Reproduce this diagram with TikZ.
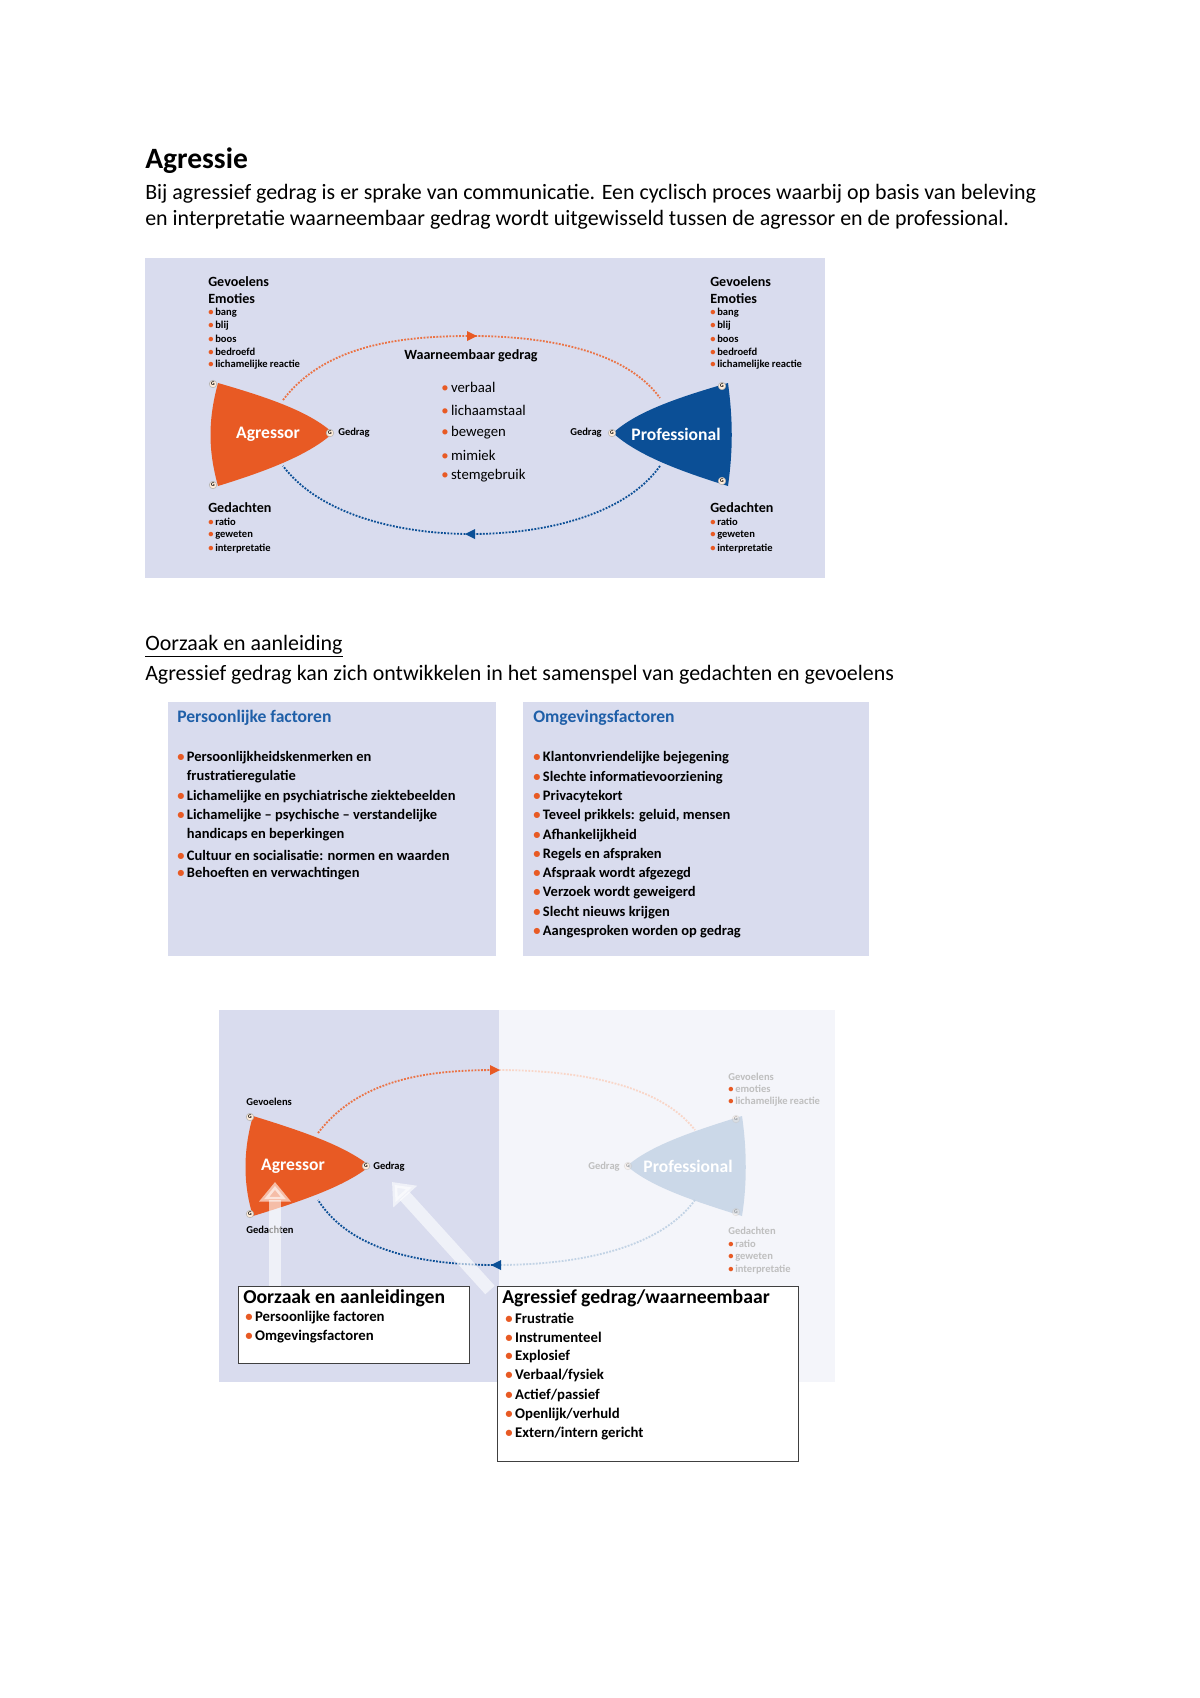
\documentclass[tikz,border=0pt]{standalone}
\usepackage{fontspec}
\setmainfont{Carlito}
\usetikzlibrary{arrows.meta}
\definecolor{og}{HTML}{E85A24}
\definecolor{bl}{HTML}{0B4F96}
\definecolor{tb}{HTML}{1F5FA8}
\definecolor{bg}{HTML}{D9DCEE}
\definecolor{bgl}{HTML}{F4F5FA}
\definecolor{fp}{HTML}{CBD8E8}
\newcommand{\fs}[1]{\fontsize{#1}{#1}\selectfont}
\newcommand{\bu}{{\color{og}\textbullet}\,}
\begin{document}
\begin{tikzpicture}[x=0.025cm,y=-0.025cm,
 t/.style={anchor=west,inner sep=0pt},
 body/.style={t,font=\fs{15.6}},
 sm/.style={t,font=\fs{7.5}\bfseries},
 smh/.style={t,font=\fs{10}\bfseries},
 g/.style={circle,fill=orange!15,draw=gray!60,inner sep=0.6pt,font=\fs{4}\bfseries,text=black},
 cyc/.style={densely dotted,line width=1.3pt},
 box/.style={draw=black!75,line width=1pt,fill=white}]
\useasboundingbox (0,0) rectangle (1200,1698);
% ---- text
\node[t,font=\fs{21}\bfseries] (title) at (145,161) {Agressie};
\node[body] (l1) at (145,194) {Bij agressief gedrag is er sprake van communicatie. Een cyclisch proces waarbij op basis van beleving};
\node[body] (l2) at (145,220) {en interpretatie waarneembaar gedrag wordt uitgewisseld tussen de agressor en de professional.};
% ---- diagram 1
\fill[bg] (145,258) rectangle (825,578);
\fill[og] (218,383) .. controls (270,398) and (310,412) .. (333,433) .. controls (310,454) and (270,470) .. (218,486) .. controls (208,450) and (208,420) .. (218,383);
\fill[bl] (728,383) .. controls (676,398) and (636,412) .. (613,433) .. controls (636,454) and (676,470) .. (728,486) .. controls (733,450) and (733,420) .. (728,383);
\draw[cyc,og!85] (283,400) .. controls (325,345) and (400,336) .. (471,336) .. controls (545,336) and (625,350) .. (660,398);
\draw[cyc,bl] (660,466) .. controls (625,515) and (545,534) .. (471,534) .. controls (400,534) and (320,515) .. (283,466);
\fill[og] (477,336) -- (467,331) -- (467,341) -- cycle;
\fill[bl] (465,534) -- (475,529) -- (475,539) -- cycle;
\node[g] (g1) at (213,384) {G}; \node[g] (g2) at (213,485) {G}; \node[g] (g3) at (330,433) {G};
\node[g] (g4) at (722,386) {G}; \node[g] (g5) at (722,481) {G}; \node[g] (g6) at (612,433) {G};
\node[font=\fs{12.5}\bfseries,text=white] (ag) at (268,434) {Agressor};
\node[font=\fs{12.5}\bfseries,text=white] (pr) at (676,434) {Professional};
\node[sm] (gl) at (338,433) {Gedrag};
\node[sm,anchor=east] (gr) at (602,433) {Gedrag};
\node[smh,anchor=center] (wg) at (471,356) {Waarneembaar gedrag};
\foreach \y/\s [count=\i] in {387/verbaal,410/lichaamstaal,433/bewegen,455/mimiek,476/stemgebruik}
  \node[t,font=\fs{10.5}] (c\i) at (441,\y) {\bu\s};
\foreach \x/\n in {208/L,710/R}{
  \node[smh] (ge\n) at (\x,282) {Gevoelens};
  \node[smh] (em\n) at (\x,299) {Emoties};
  \foreach \y/\s [count=\i] in {313/bang,326/blij,339/boos,352/bedroefd,365/lichamelijke reactie}
    \node[sm] (e\n\i) at (\x,\y) {\bu\s};
  \node[smh] (gd\n) at (\x,508) {Gedachten};
  \foreach \y/\s [count=\i] in {522/ratio,535/geweten,549/interpretatie}
    \node[sm] (d\n\i) at (\x,\y) {\bu\s};
}
% ---- section 2
\node[body] (s2) at (145,646) {\underline{Oorzaak en aanleiding}};
\node[body] (s2b) at (145,675) {Agressief gedrag kan zich ontwikkelen in het samenspel van gedachten en gevoelens};
\fill[bg] (168,702) rectangle (496,956);
\fill[bg] (523,702) rectangle (869,956);
\node[t,font=\fs{12.5}\bfseries,text=tb] (pf) at (177,718) {Persoonlijke factoren};
\node[t,font=\fs{12.5}\bfseries,text=tb] (of) at (533,718) {Omgevingsfactoren};
\foreach \y/\s [count=\i] in {758/\bu Persoonlijkheidskenmerken en,777/\phantom{\textbullet\,}frustratieregulatie,797/\bu Lichamelijke en psychiatrische ziektebeelden,816/\bu Lichamelijke – psychische – verstandelijke,835/\phantom{\textbullet\,}handicaps en beperkingen,855/\bu Cultuur en socialisatie: normen en waarden,874/\bu Behoeften en verwachtingen}
  \node[t,font=\fs{10.3}\bfseries] (p\i) at (177,\y) {\s};
\foreach \s [count=\i] in {Klantonvriendelijke bejegening,Slechte informatievoorziening,Privacytekort,{Teveel prikkels: geluid, mensen},Afhankelijkheid,Regels en afspraken,Afspraak wordt afgezegd,Verzoek wordt geweigerd,Slecht nieuws krijgen,Aangesproken worden op gedrag}
  \node[t,font=\fs{10.3}\bfseries] (o\i) at (533,{758+19.3*(\i-1)}) {\bu\s};
% ---- diagram 3
\fill[bg] (219,1010) rectangle (499,1382);
\fill[bgl] (499,1010) rectangle (835,1382);
\begin{scope}
\clip (219,1010) rectangle (835,1382);
\fill[og] (253,1116) .. controls (305,1132) and (345,1146) .. (370,1166) .. controls (345,1186) and (305,1200) .. (253,1216) .. controls (243,1185) and (243,1150) .. (253,1116);
\fill[fp] (742,1116) .. controls (690,1132) and (650,1146) .. (627,1166) .. controls (650,1186) and (690,1200) .. (742,1216) .. controls (747,1185) and (747,1150) .. (742,1116);
\draw[cyc,og!85] (318,1133) .. controls (360,1078) and (430,1070) .. (496,1070);
\draw[cyc,og!25] (496,1070) .. controls (580,1070) and (660,1085) .. (695,1130);
\draw[cyc,bl] (496,1265) .. controls (420,1265) and (350,1250) .. (318,1200);
\draw[cyc,bl!25] (695,1200) .. controls (660,1248) and (580,1265) .. (496,1265);
\fill[og] (500,1070) -- (490,1065) -- (490,1075) -- cycle;
\fill[bl] (491,1265) -- (501,1260) -- (501,1270) -- cycle;
\node[g] (h1) at (250,1117) {G}; \node[g] (h2) at (250,1214) {G}; \node[g] (h3) at (366,1166) {G};
\node[g,opacity=0.3] (h4) at (736,1119) {G}; \node[g,opacity=0.3] (h5) at (736,1212) {G}; \node[g,opacity=0.3] (h6) at (628,1166) {G};
\node[font=\fs{12.5}\bfseries,text=white] (ag2) at (293,1166) {Agressor};
\node[font=\fs{12.5}\bfseries,text=white] (pr2) at (688,1166) {Professional};
\node[sm] (gd3) at (373,1167) {Gedrag};
\node[sm,text=black!25,anchor=east] (gd4) at (620,1167) {Gedrag};
\node[sm] (gv3) at (246,1102) {Gevoelens};
\node[sm] (gt3) at (246,1230) {Gedachten};
\begin{scope}[every node/.style={sm,text=black!25}]
\node (rv) at (728,1077) {Gevoelens};
\node (rv1) at (728,1089) {\bu emoties};
\node (rv2) at (728,1102) {\bu lichamelijke reactie};
\node (rg) at (728,1231) {Gedachten};
\node (rg1) at (728,1244) {\bu ratio};
\node (rg2) at (728,1257) {\bu geweten};
\node (rg3) at (728,1270) {\bu interpretatie};
\end{scope}
\end{scope}
% white arrows
\draw[white,opacity=0.6,line width=9pt,-{Triangle[width=22pt,length=14pt]}] (275,1286) -- (275,1182);
\draw[white,opacity=0.6,line width=9pt,-{Triangle[width=22pt,length=14pt]}] (490,1290) -- (392,1182);
% boxes
\node[box,minimum width=231*0.025cm,minimum height=77*0.025cm,anchor=north west] (b1) at (238,1286) {};
\node[box,minimum width=301*0.025cm,minimum height=175*0.025cm,anchor=north west] (b2) at (497,1286) {};
\node[t,font=\fs{14}\bfseries] (b1t) at (243,1298) {Oorzaak en aanleidingen};
\node[t,font=\fs{10.5}\bfseries] (b1a) at (245,1318) {\bu Persoonlijke factoren};
\node[t,font=\fs{10.5}\bfseries] (b1b) at (245,1337) {\bu Omgevingsfactoren};
\node[t,font=\fs{14}\bfseries] (b2t) at (502,1298) {Agressief gedrag/waarneembaar};
\foreach \s [count=\i] in {Frustratie,Instrumenteel,Explosief,{Verbaal/fysiek},{Actief/passief},{Openlijk/verhuld},{Extern/intern gericht}}
  \node[t,font=\fs{10.5}\bfseries] (q\i) at (505,{1318+19.3*(\i-1)}) {\bu\s};
\end{tikzpicture}
\end{document}
